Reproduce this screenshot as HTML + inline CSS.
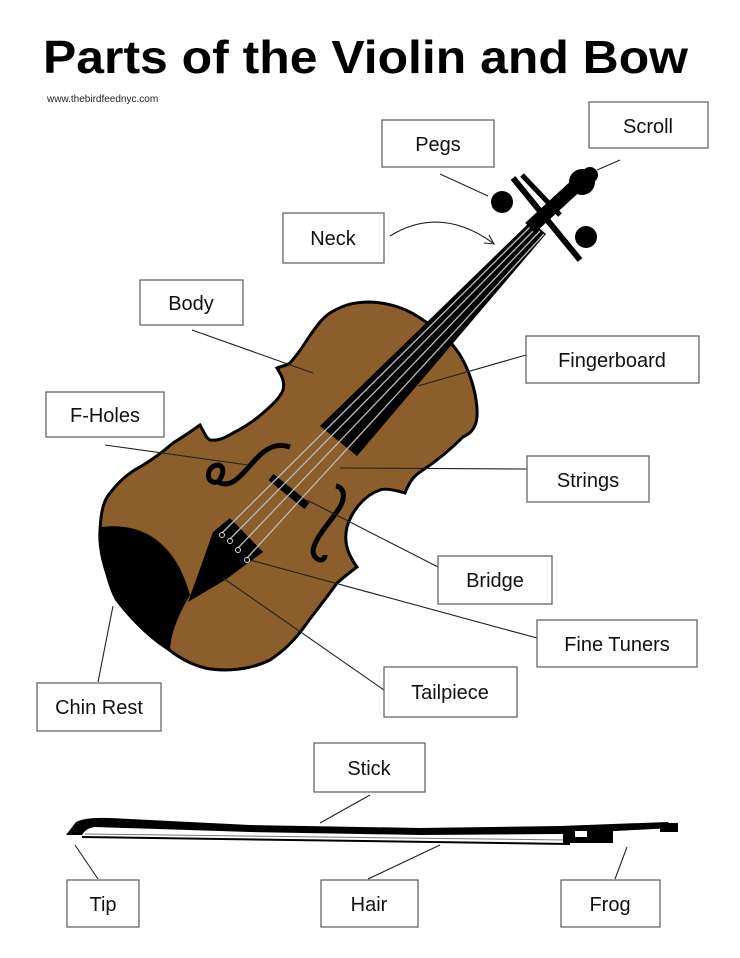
<!DOCTYPE html>
<html><head><meta charset="utf-8"><style>
html,body{margin:0;padding:0;background:#fff}
svg{display:block}
.lb{font-family:"Liberation Sans",sans-serif;font-size:20px;fill:#111;text-anchor:middle}
.bx{fill:#fff;stroke:#666;stroke-width:1.3}
.ln{stroke:#222;stroke-width:1.1;fill:none}
</style></head><body>
<svg width="740" height="958" viewBox="0 0 740 958" xmlns="http://www.w3.org/2000/svg">
<text x="43" y="73" font-family="Liberation Sans,sans-serif" font-weight="bold" font-size="46" textLength="645" lengthAdjust="spacingAndGlyphs" fill="#000">Parts of the Violin and Bow</text>
<text x="47" y="102" font-family="Liberation Sans,sans-serif" font-size="10" fill="#222">www.thebirdfeednyc.com</text>

<!-- violin body -->
<path d="M370,302 C395,303 412,312 423,320 C440,330 450,340 460,355 C472,375 478,400 477,417 C476,428 470,434 463,437 C450,450 435,462 423,470 C415,475 410,480 405,493 C395,490 385,488 380,490 C365,495 352,510 347,527 C344,540 346,552 357,567 C350,572 343,578 337,583 C325,600 315,612 307,623 C295,640 285,650 270,660 C250,670 225,672 205,668 C185,663 165,650 150,630 C130,610 113,590 108,577 C102,560 99,545 100,530 C101,510 104,500 110,493 C120,480 130,472 140,467 C155,458 165,450 173,443 C183,437 190,432 200,425 C204,432 206,438 210,440 C220,441 226,437 233,433 C245,427 255,420 263,413 C272,405 280,398 283,390 C285,382 282,376 277,368 C282,366 286,366 290,363 C297,355 302,348 307,340 C315,328 322,318 330,313 C340,307 350,302 370,302 Z" fill="#8B5E2B" stroke="#000" stroke-width="3"/>
<!-- chin rest -->
<path d="M101,527 C140,522 175,540 190,595 C178,615 170,635 170,652 C150,640 130,620 115,600 C105,580 100,555 101,527 Z" fill="#000"/>
<!-- tailpiece -->
<path d="M213,532 L230,518 L263,552 L225,580 L188,602 C196,580 205,555 213,532 Z" fill="#000"/>
<!-- fingerboard -->
<path d="M320,426 L531,221 L546,234 L357,456 Z" fill="#000"/>
<!-- f-holes -->
<path d="M218,482 C205,485 205,465 219,465 C226,468 222,477 218,482 M218,482 C232,490 244,472 255,460 C265,449 276,442 290,447" stroke="#000" stroke-width="5" fill="none"/>
<path d="M336,486 C346,488 345,500 338,510 C328,525 313,540 313,552 C315,562 325,562 325,555" stroke="#000" stroke-width="5" fill="none"/>
<!-- bridge -->
<line x1="271" y1="477" x2="307" y2="506" stroke="#000" stroke-width="8"/>
<!-- strings -->
<g stroke="#bbb" stroke-width="1.3">
<line x1="222" y1="533" x2="532" y2="225"/>
<line x1="230" y1="539" x2="536" y2="228"/>
<line x1="238" y1="548" x2="540" y2="231"/>
<line x1="247" y1="558" x2="544" y2="234"/>
</g>
<g fill="none" stroke="#ddd" stroke-width="1"><circle cx="222" cy="535" r="2.5"/><circle cx="230" cy="541" r="2.5"/><circle cx="238" cy="550" r="2.5"/><circle cx="247" cy="560" r="2.5"/></g>
<!-- pegbox & scroll -->
<line x1="530" y1="228" x2="580" y2="182" stroke="#000" stroke-width="14"/>
<circle cx="582" cy="182" r="13" fill="#000"/>
<circle cx="590" cy="175" r="8" fill="#000"/>
<line x1="513" y1="178" x2="580" y2="260" stroke="#000" stroke-width="6"/>
<line x1="522" y1="175" x2="560" y2="215" stroke="#000" stroke-width="5"/>
<circle cx="502" cy="202" r="11" fill="#000"/>
<circle cx="586" cy="237" r="11" fill="#000"/>

<!-- bow -->
<path d="M66,835 L76,822 Q85,817 110,818 L250,825 L420,828 L560,826 L668,822 L672,828 L560,834 L420,835 L250,832 L95,827 Q86,828 82,835 Z" fill="#000"/>
<line x1="82" y1="837" x2="570" y2="844" stroke="#000" stroke-width="2"/>
<line x1="85" y1="834" x2="565" y2="840" stroke="#777" stroke-width="1"/>
<rect x="563" y="827" width="50" height="16" fill="#000"/>
<rect x="575" y="831" width="12" height="6" fill="#fff"/>
<rect x="660" y="823" width="18" height="9" fill="#000"/>

<!-- leader lines -->
<path class="ln" d="M440,174 L488,196"/>
<path class="ln" d="M597,170 L620,160"/>
<path class="ln" d="M390,236 Q440,205 493,243"/>
<path class="ln" d="M484,243 L494,244 L489,235"/>
<path class="ln" d="M192,330 L313,373"/>
<path class="ln" d="M105,445 L248,465"/>
<path class="ln" d="M526,355 L418,386"/>
<path class="ln" d="M527,469 L340,468"/>
<path class="ln" d="M438,567 L307,500"/>
<path class="ln" d="M537,638 L250,560"/>
<path class="ln" d="M384,690 L223,578"/>
<path class="ln" d="M98,682 L113,606"/>
<path class="ln" d="M370,795 L320,823"/>
<path class="ln" d="M75,845 L98,879"/>
<path class="ln" d="M440,845 L368,879"/>
<path class="ln" d="M627,847 L615,879"/>

<!-- boxes -->
<rect class="bx" x="382" y="120" width="112" height="47"/><text class="lb" x="438" y="151">Pegs</text>
<rect class="bx" x="589" y="102" width="119" height="46"/><text class="lb" x="648" y="133">Scroll</text>
<rect class="bx" x="283" y="213" width="101" height="50"/><text class="lb" x="333" y="245">Neck</text>
<rect class="bx" x="140" y="280" width="103" height="45"/><text class="lb" x="191" y="310">Body</text>
<rect class="bx" x="526" y="336" width="173" height="47"/><text class="lb" x="612" y="367">Fingerboard</text>
<rect class="bx" x="46" y="392" width="118" height="45"/><text class="lb" x="105" y="422">F-Holes</text>
<rect class="bx" x="527" y="456" width="122" height="46"/><text class="lb" x="588" y="487">Strings</text>
<rect class="bx" x="438" y="556" width="114" height="48"/><text class="lb" x="495" y="587">Bridge</text>
<rect class="bx" x="537" y="620" width="160" height="47"/><text class="lb" x="617" y="651">Fine Tuners</text>
<rect class="bx" x="384" y="667" width="133" height="50"/><text class="lb" x="450" y="699">Tailpiece</text>
<rect class="bx" x="37" y="683" width="124" height="48"/><text class="lb" x="99" y="714">Chin Rest</text>
<rect class="bx" x="314" y="743" width="111" height="49"/><text class="lb" x="369" y="775">Stick</text>
<rect class="bx" x="67" y="880" width="72" height="47"/><text class="lb" x="103" y="911">Tip</text>
<rect class="bx" x="321" y="880" width="97" height="47"/><text class="lb" x="369" y="911">Hair</text>
<rect class="bx" x="561" y="880" width="99" height="47"/><text class="lb" x="610" y="911">Frog</text>
</svg>
</body></html>
